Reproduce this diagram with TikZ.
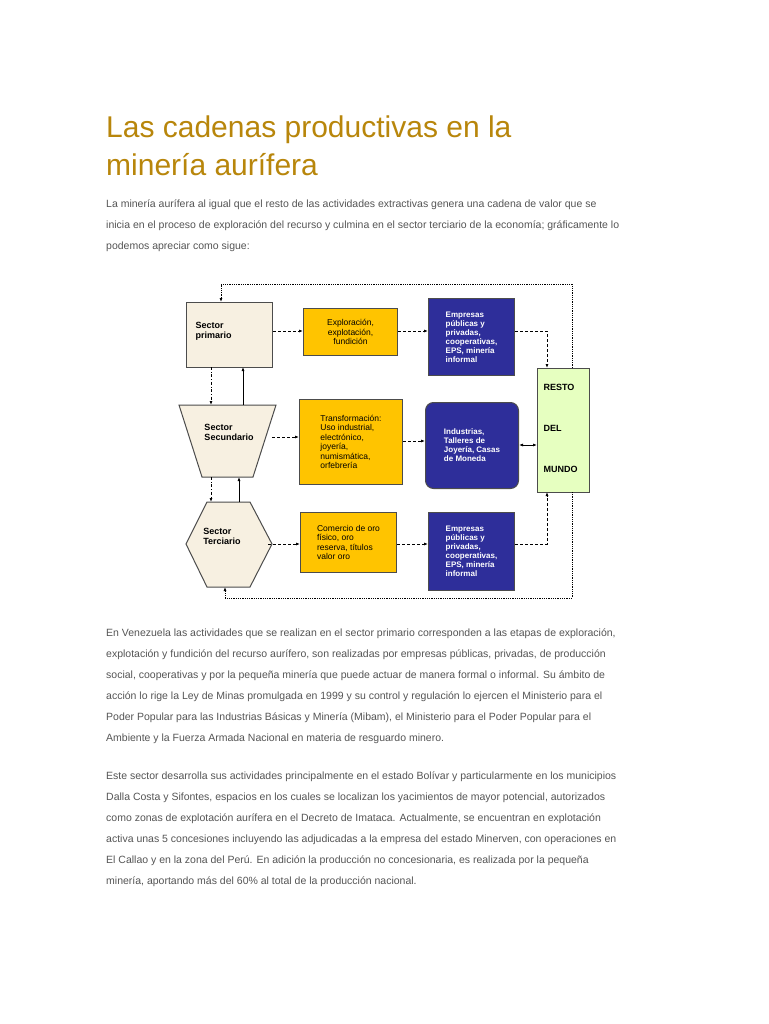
\documentclass[tikz,border=0pt]{standalone}
\usepackage{fontspec}
\setmainfont{Liberation Sans}
\usetikzlibrary{arrows.meta}
\definecolor{gold}{HTML}{B8860B}
\definecolor{para}{HTML}{555555}
\definecolor{beige}{HTML}{F7F0E1}
\definecolor{yel}{HTML}{FFC400}
\definecolor{blu}{HTML}{2E2E9A}
\definecolor{grn}{HTML}{E6FFC0}
\begin{document}
\begin{tikzpicture}[x=1pt,y=-1pt,
  pl/.style={anchor=west,inner sep=0,font=\fontsize{10.5}{12}\selectfont,text=para},
  bx/.style={draw=black!70,line width=1pt,inner sep=2pt,font=\fontsize{8.5}{9.5}\selectfont},
  yb/.style={bx,fill=yel,align=center},
  bb/.style={bx,fill=blu,text=white,font=\bfseries\fontsize{8}{9}\selectfont,align=left},
  da/.style={densely dashed,-{Latex[length=4pt]},line width=0.8pt},
  dt/.style={densely dotted,-{Latex[length=4pt]},line width=0.8pt},
  sa/.style={-{Latex[length=4pt]},line width=0.8pt}]
\useasboundingbox (0,0) rectangle (768,1024);
\fill[white] (0,0) rectangle (768,1024);
\node[anchor=north west,inner sep=0,align=left,text=gold,font=\fontsize{30}{38}\selectfont] (title) at (106,116) {Las cadenas productivas en la\\minería aurífera};
\node[pl] (p1) at (106,205) {La minería aurífera al igual que el resto de las actividades extractivas genera una cadena de valor que se};
\node[pl] (p2) at (106,226) {inicia en el proceso de exploración del recurso y culmina en el sector terciario de la economía; gráficamente lo};
\node[pl] (p3) at (106,247) {podemos apreciar como sigue:};
% diagram
\node[bx,fill=beige,minimum width=86,minimum height=65,anchor=north west,align=left,font=\bfseries\fontsize{9}{10}\selectfont] (prim) at (186,302) {};
\node[anchor=west,font=\bfseries\fontsize{9}{10}\selectfont,align=left] (primt) at (192,331) {Sector\\primario};
\node[yb,minimum width=94,minimum height=47,anchor=north west] (y1) at (303,308) {Exploración,\\explotación,\\fundición};
\node[bb,minimum width=86,minimum height=77,anchor=north west] (b1) at (428,298) {Empresas\\públicas y\\privadas,\\cooperativas,\\EPS, minería\\informal};
\node[bx,fill=grn,minimum width=52,minimum height=124,anchor=north west] (resto) at (537,368) {};
\node[anchor=west,font=\bfseries\fontsize{9}{10}\selectfont] (r1) at (540,387) {RESTO};
\node[anchor=west,font=\bfseries\fontsize{9}{10}\selectfont] (r2) at (540,428) {DEL};
\node[anchor=west,font=\bfseries\fontsize{9}{10}\selectfont] (r3) at (540,469) {MUNDO};
\draw[draw=black!70,line width=1pt,fill=beige] (179,405) coordinate (tl) -- (276,405) coordinate (tr) -- (253,477) -- (202,477) -- cycle;
\node[font=\bfseries\fontsize{9}{10}\selectfont,align=left] (sec) at (229,432) {Sector\\Secundario};
\node[yb,minimum width=103,minimum height=85,anchor=north west,align=left] (y2) at (299,399) {Transformación:\\Uso industrial,\\electrónico,\\joyería,\\numismática,\\orfebrería};
\node[bb,rounded corners=8pt,minimum width=93,minimum height=86,anchor=north west] (b2) at (425,402) {Industrias,\\Talleres de\\Joyería, Casas\\de Moneda};
\draw[draw=black!70,line width=1pt,fill=beige] (186,544) -- (207,502) -- (250,502) -- (272,544) -- (250,587) -- (207,587) -- cycle;
\node[font=\bfseries\fontsize{9}{10}\selectfont,align=left] (ter) at (222,536) {Sector\\Terciario};
\node[yb,minimum width=96,minimum height=60,anchor=north west,align=left] (y3) at (300,512) {Comercio de oro\\físico, oro\\reserva, títulos\\valor oro};
\node[bb,minimum width=86,minimum height=78,anchor=north west] (b3) at (428,512) {Empresas\\públicas y\\privadas,\\cooperativas,\\EPS, minería\\informal};
% connectors
\draw[da] (prim.east|-0,331) -- (y1.west|-0,331);
\draw[da] (y1.east|-0,331) -- (b1.west|-0,331);
\draw[da] (b1.east|-0,331) -- (547,331) -- (547,368);
\draw[dt] (572,368) -- (572,284) -- (221,284) -- (221,302);
\draw[dt] (572,492) -- (572,598) -- (225,598) -- (225,587);
\draw[da] (272,437) -- (y2.west|-0,437);
\draw[da] (y2.east|-0,441) -- (b2.west|-0,441);
\draw[{Latex[length=4pt]}-{Latex[length=4pt]},line width=0.8pt] (b2.east|-0,445) -- (resto.west|-0,445);
\draw[da] (268,544) -- (y3.west|-0,544);
\draw[da] (y3.east|-0,544) -- (b3.west|-0,544);
\draw[da] (b3.east|-0,544) -- (547,544) -- (547,492);
\draw[dash dot,-{Latex[length=4pt]},line width=0.8pt] (211,367) -- (211,405);
\draw[sa] (243,405) -- (243,367);
\draw[dash dot,-{Latex[length=4pt]},line width=0.8pt] (211,477) -- (211,502);
\draw[sa] (239,502) -- (239,477);
% paragraphs
\node[pl] (q1) at (106,634) {En Venezuela las actividades que se realizan en el sector primario corresponden a las etapas de exploración,};
\node[pl] (q2) at (106,655) {explotación y fundición del recurso aurífero, son realizadas por empresas públicas, privadas, de producción};
\node[pl] (q3) at (106,676) {social, cooperativas y por la pequeña minería que puede actuar de manera formal o informal. Su ámbito de};
\node[pl] (q4) at (106,697) {acción lo rige la Ley de Minas promulgada en 1999 y su control y regulación lo ejercen el Ministerio para el};
\node[pl] (q5) at (106,718) {Poder Popular para las Industrias Básicas y Minería (Mibam), el Ministerio para el Poder Popular para el};
\node[pl] (q6) at (106,739) {Ambiente y la Fuerza Armada Nacional en materia de resguardo minero.};
\node[pl] (s1) at (106,777) {Este sector desarrolla sus actividades principalmente en el estado Bolívar y particularmente en los municipios};
\node[pl] (s2) at (106,798) {Dalla Costa y Sifontes, espacios en los cuales se localizan los yacimientos de mayor potencial, autorizados};
\node[pl] (s3) at (106,819) {como zonas de explotación aurífera en el Decreto de Imataca. Actualmente, se encuentran en explotación};
\node[pl] (s4) at (106,840) {activa unas 5 concesiones incluyendo las adjudicadas a la empresa del estado Minerven, con operaciones en};
\node[pl] (s5) at (106,861) {El Callao y en la zona del Perú. En adición la producción no concesionaria, es realizada por la pequeña};
\node[pl] (s6) at (106,882) {minería, aportando más del 60\% al total de la producción nacional.};
\end{tikzpicture}
\end{document}
